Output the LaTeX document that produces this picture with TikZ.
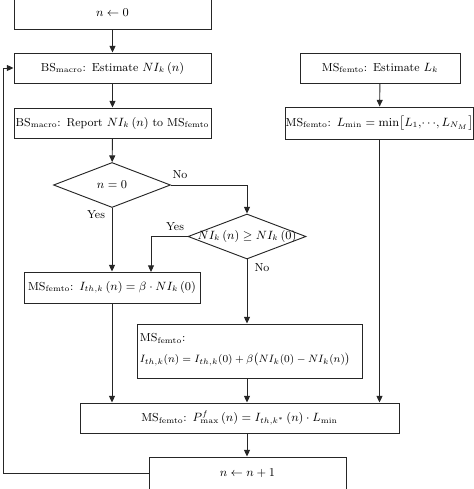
\documentclass[tikz,border=0pt]{standalone}
\usepackage{amsmath}
\usetikzlibrary{shapes.geometric,arrows.meta}
\begin{document}
\begin{tikzpicture}[x=0.75pt,y=-0.75pt,
  line width=0.7pt, draw=black!85,
  every node/.append style={font=\fontsize{8.7}{10.5}\selectfont},
  box/.style={draw=black!85,rectangle,inner sep=0pt,align=center},
  dia/.style={draw=black!85,diamond,inner sep=0pt},
  arr/.style={draw=black!85,-{Triangle[length=5pt,width=4.5pt]}},
  lbl/.style={inner sep=1pt}]
\useasboundingbox (0,0) rectangle (474,489);
% left column
\node[box,minimum width=147.75pt,minimum height=24pt] (b1) at (112.5,13) {$n \leftarrow 0$};
\node[box,minimum width=147.75pt,minimum height=22.5pt] (b2) at (112.5,68) {BS$_{\mathrm{macro}}$:\enspace Estimate $NI_k\,(n)$};
\node[box,minimum width=147.75pt,minimum height=22.5pt] (b3) at (112.5,123) {BS$_{\mathrm{macro}}$:\enspace Report $NI_k\,(n)$ to MS$_{\mathrm{femto}}$};
\node[dia,minimum width=87.75pt,minimum height=33.75pt] (d1) at (112,185) {};
\node at (d1) {$n=0$};
\node[dia,minimum width=88.5pt,minimum height=33.75pt] (d2) at (247,236.5) {};
\node at (d2) {$NI_k\,(n)\geq NI_k\,(0)$};
\node[box,minimum width=132pt,minimum height=23.25pt] (b4) at (112,287.5) {MS$_{\mathrm{femto}}$:\enspace $I_{th,k}\,(n)=\beta\cdot NI_k\,(0)$};
\node[box,minimum width=168.75pt,minimum height=40.5pt] (b5) at (249.5,351) {};
\node[anchor=north west,inner sep=0pt,align=left] (b5t) at (139.5,333) {MS$_{\mathrm{femto}}$:\\[5pt] {\fontsize{8.4}{10}\selectfont$I_{th,k}(n)=I_{th,k}(0)+\beta\bigl(NI_k(0)-NI_k(n)\bigr)$}};
% right column
\node[box,minimum width=120pt,minimum height=22.5pt] (r1) at (380,68) {MS$_{\mathrm{femto}}$:\enspace Estimate $L_k$};
\node[box,minimum width=138.75pt,minimum height=24pt] (r2) at (379.5,123) {MS$_{\mathrm{femto}}$:\enspace $L_{\min}=\min\bigl[L_1,\!\cdots\!,L_{N_M}\bigr]$};
% bottom
\node[box,minimum width=239.25pt,minimum height=22.5pt] (b6) at (239.5,418) {MS$_{\mathrm{femto}}$:\enspace $P^{f}_{\max}\,(n)=I_{th,k^*}\,(n)\cdot L_{\min}$};
\node[box,minimum width=147.75pt,minimum height=24.75pt] (b7) at (247.5,473.5) {$n \leftarrow n+1$};
% connectors
\draw[arr] (b1) -- (b2);
\draw[arr] (b2) -- (b3);
\draw[arr] (b3) -- (d1);
\draw[arr] (d1.south) -- (b4.north);
\draw[arr] (d1.east) -| (d2.north);
\draw[arr] (d2.west) -| (151,272);
\draw[arr] (d2.south) -- (d2.south |- b5.north);
\draw[arr] (r1) -- (r2);
\draw[arr] (b4.south) -- (b4.south |- b6.north);
\draw[arr] (d2.south |- b5.south) -- (d2.south |- b6.north);
\draw[arr] (r2.south) -- (r2.south |- b6.north);
\draw[arr] (d2.south |- b6.south) -- (d2.south |- b7.north);
\draw[arr] (b7.west) -- (3,473.5) -- (3,68) -- (b2.west);
% labels
\node[lbl] at (180,175) {No};
\node[lbl] at (96,215) {Yes};
\node[lbl] at (175,227) {Yes};
\node[lbl] at (262,268) {No};
\end{tikzpicture}
\end{document}
